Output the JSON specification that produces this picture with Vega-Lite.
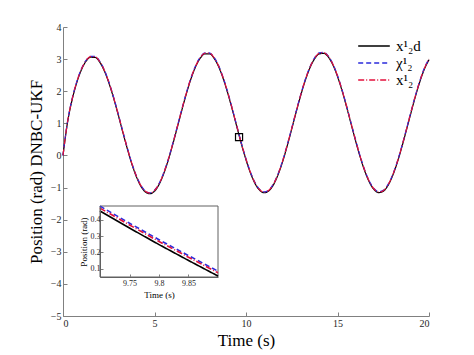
{
  "$schema": "https://vega.github.io/schema/vega-lite/v6.json",
  "width": 366,
  "height": 289,
  "autosize": {"type": "none"},
  "padding": {"left": 63, "top": 27, "right": 45, "bottom": 39},
  "background": "white",
  "config": {
    "view": {"stroke": null},
    "font": "Liberation Serif",
    "axis": {
      "grid": false,
      "domainColor": "#808080",
      "tickColor": "#808080",
      "labelColor": "#262626",
      "titleColor": "#000000",
      "labelFont": "Liberation Serif",
      "titleFont": "Liberation Serif",
      "titleFontWeight": "normal",
      "labelOverlap": false
    },
    "axisY": {"labelOverlap": false},
    "axisLeft": {"labelOverlap": false},
    "axisQuantitative": {"labelOverlap": false},
    "legend": {
      "orient": "none",
      "legendX": 302,
      "legendY": 10,
      "title": null,
      "padding": 0,
      "symbolType": "M-2,0H2",
      "symbolSize": 250,
      "symbolStrokeWidth": 1.4,
      "labelFont": "Liberation Serif",
      "labelFontSize": 15,
      "labelColor": "#000000",
      "labelOffset": 13,
      "rowPadding": -1
    }
  },
  "datasets": {
    "curve": [
      {"t": 0, "a": 0.0, "b": 0.0, "c": 0.0},
      {"t": 0.25, "a": 1.036, "b": 1.066, "c": 1.056},
      {"t": 0.5, "a": 1.737, "b": 1.767, "c": 1.757},
      {"t": 0.75, "a": 2.266, "b": 2.296, "c": 2.286},
      {"t": 1, "a": 2.659, "b": 2.689, "c": 2.679},
      {"t": 1.25, "a": 2.927, "b": 2.957, "c": 2.947},
      {"t": 1.5, "a": 3.058, "b": 3.088, "c": 3.078},
      {"t": 1.75, "a": 3.053, "b": 3.083, "c": 3.073},
      {"t": 2, "a": 2.911, "b": 2.941, "c": 2.931},
      {"t": 2.25, "a": 2.644, "b": 2.674, "c": 2.664},
      {"t": 2.5, "a": 2.271, "b": 2.301, "c": 2.291},
      {"t": 2.75, "a": 1.814, "b": 1.844, "c": 1.834},
      {"t": 3, "a": 1.3, "b": 1.33, "c": 1.32},
      {"t": 3.25, "a": 0.763, "b": 0.793, "c": 0.783},
      {"t": 3.5, "a": 0.238, "b": 0.268, "c": 0.258},
      {"t": 3.75, "a": -0.247, "b": -0.217, "c": -0.227},
      {"t": 4, "a": -0.648, "b": -0.618, "c": -0.628},
      {"t": 4.25, "a": -0.953, "b": -0.923, "c": -0.933},
      {"t": 4.5, "a": -1.137, "b": -1.107, "c": -1.117},
      {"t": 4.75, "a": -1.193, "b": -1.163, "c": -1.173},
      {"t": 5, "a": -1.113, "b": -1.083, "c": -1.093},
      {"t": 5.25, "a": -0.903, "b": -0.873, "c": -0.883},
      {"t": 5.5, "a": -0.574, "b": -0.544, "c": -0.554},
      {"t": 5.75, "a": -0.152, "b": -0.122, "c": -0.132},
      {"t": 6, "a": 0.346, "b": 0.376, "c": 0.366},
      {"t": 6.25, "a": 0.882, "b": 0.912, "c": 0.902},
      {"t": 6.5, "a": 1.424, "b": 1.454, "c": 1.444},
      {"t": 6.75, "a": 1.94, "b": 1.97, "c": 1.96},
      {"t": 7, "a": 2.398, "b": 2.428, "c": 2.418},
      {"t": 7.25, "a": 2.768, "b": 2.798, "c": 2.788},
      {"t": 7.5, "a": 3.029, "b": 3.059, "c": 3.049},
      {"t": 7.75, "a": 3.163, "b": 3.193, "c": 3.183},
      {"t": 8, "a": 3.164, "b": 3.194, "c": 3.184},
      {"t": 8.25, "a": 3.03, "b": 3.06, "c": 3.05},
      {"t": 8.5, "a": 2.771, "b": 2.801, "c": 2.791},
      {"t": 8.75, "a": 2.401, "b": 2.431, "c": 2.421},
      {"t": 9, "a": 1.945, "b": 1.975, "c": 1.965},
      {"t": 9.25, "a": 1.431, "b": 1.461, "c": 1.451},
      {"t": 9.5, "a": 0.89, "b": 0.92, "c": 0.91},
      {"t": 9.7, "a": 0.455, "b": 0.485, "c": 0.473},
      {"t": 9.75, "a": 0.35, "b": 0.38, "c": 0.369},
      {"t": 9.8, "a": 0.248, "b": 0.278, "c": 0.267},
      {"t": 9.85, "a": 0.15, "b": 0.18, "c": 0.17},
      {"t": 9.9, "a": 0.054, "b": 0.084, "c": 0.074},
      {"t": 10, "a": -0.135, "b": -0.105, "c": -0.115},
      {"t": 10.25, "a": -0.557, "b": -0.527, "c": -0.537},
      {"t": 10.5, "a": -0.881, "b": -0.851, "c": -0.861},
      {"t": 10.75, "a": -1.087, "b": -1.057, "c": -1.067},
      {"t": 11, "a": -1.162, "b": -1.132, "c": -1.142},
      {"t": 11.25, "a": -1.102, "b": -1.072, "c": -1.082},
      {"t": 11.5, "a": -0.913, "b": -0.883, "c": -0.893},
      {"t": 11.75, "a": -0.604, "b": -0.574, "c": -0.584},
      {"t": 12, "a": -0.196, "b": -0.166, "c": -0.176},
      {"t": 12.25, "a": 0.295, "b": 0.325, "c": 0.315},
      {"t": 12.5, "a": 0.826, "b": 0.856, "c": 0.846},
      {"t": 12.75, "a": 1.368, "b": 1.398, "c": 1.388},
      {"t": 13, "a": 1.888, "b": 1.918, "c": 1.908},
      {"t": 13.25, "a": 2.354, "b": 2.384, "c": 2.374},
      {"t": 13.5, "a": 2.736, "b": 2.766, "c": 2.756},
      {"t": 13.75, "a": 3.012, "b": 3.042, "c": 3.032},
      {"t": 14, "a": 3.162, "b": 3.192, "c": 3.182},
      {"t": 14.25, "a": 3.179, "b": 3.209, "c": 3.199},
      {"t": 14.5, "a": 3.063, "b": 3.093, "c": 3.083},
      {"t": 14.75, "a": 2.818, "b": 2.848, "c": 2.838},
      {"t": 15, "a": 2.46, "b": 2.49, "c": 2.48},
      {"t": 15.25, "a": 2.014, "b": 2.044, "c": 2.034},
      {"t": 15.5, "a": 1.505, "b": 1.535, "c": 1.525},
      {"t": 15.75, "a": 0.966, "b": 0.996, "c": 0.986},
      {"t": 16, "a": 0.43, "b": 0.46, "c": 0.45},
      {"t": 16.25, "a": -0.07, "b": -0.04, "c": -0.05},
      {"t": 16.5, "a": -0.503, "b": -0.473, "c": -0.483},
      {"t": 16.75, "a": -0.841, "b": -0.811, "c": -0.821},
      {"t": 17, "a": -1.065, "b": -1.035, "c": -1.045},
      {"t": 17.25, "a": -1.158, "b": -1.128, "c": -1.138},
      {"t": 17.5, "a": -1.117, "b": -1.087, "c": -1.097},
      {"t": 17.75, "a": -0.943, "b": -0.913, "c": -0.923},
      {"t": 18, "a": -0.649, "b": -0.619, "c": -0.629},
      {"t": 18.25, "a": -0.251, "b": -0.221, "c": -0.231},
      {"t": 18.5, "a": 0.228, "b": 0.258, "c": 0.248},
      {"t": 18.75, "a": 0.755, "b": 0.785, "c": 0.775},
      {"t": 19, "a": 1.297, "b": 1.327, "c": 1.317},
      {"t": 19.25, "a": 1.822, "b": 1.852, "c": 1.842},
      {"t": 19.5, "a": 2.296, "b": 2.326, "c": 2.316},
      {"t": 19.75, "a": 2.691, "b": 2.721, "c": 2.711},
      {"t": 20, "a": 2.981, "b": 3.011, "c": 3.001}
    ],
    "marker": [{"t": 9.62, "y": 0.57}]
  },
  "resolve": {"scale": {"x": "independent", "y": "independent"}},
  "layer": [
    {
      "layer": [
        {
          "data": {"name": "curve"},
          "transform": [{"fold": ["a", "b", "c"], "as": ["s", "y"]}],
          "mark": {"type": "line", "strokeWidth": 1.2, "interpolate": "monotone"},
          "encoding": {
            "x": {
              "field": "t", "type": "quantitative",
              "scale": {"domain": [0, 20], "nice": false},
              "axis": {
                "values": [0, 5, 10, 15, 20], "title": "Time (s)",
                "titleFontSize": 17, "labelFontSize": 10,
                "tickSize": -4, "labelPadding": 6, "titlePadding": 4,
                "labelOverlap": false
              }
            },
            "y": {
              "field": "y", "type": "quantitative",
              "scale": {"domain": [-5, 4], "nice": false, "zero": false},
              "axis": {
                "values": [-5, -4, -3, -2, -1, 0, 1, 2, 3, 4],
                "title": "Position (rad)  DNBC-UKF",
                "titleFontSize": 17, "labelFontSize": 10,
                "tickSize": -4, "labelPadding": 6, "titlePadding": 5,
                "labelOverlap": false
              }
            },
            "color": {
              "field": "s", "type": "nominal",
              "scale": {"domain": ["a", "b", "c"], "range": ["#000000", "#2b2bdc", "#e3103c"]},
              "legend": {"labelExpr": "datum.value == 'a' ? 'x¹₂d' : datum.value == 'b' ? 'χ¹₂' : 'x¹₂'"}
            },
            "strokeDash": {
              "field": "s", "type": "nominal",
              "scale": {"domain": ["a", "b", "c"], "range": [[1, 0], [5, 3], [6, 2, 1, 2]]},
              "legend": {"labelExpr": "datum.value == 'a' ? 'x¹₂d' : datum.value == 'b' ? 'χ¹₂' : 'x¹₂'"}
            }
          }
        },
        {
          "data": {"name": "marker"},
          "mark": {"type": "point", "shape": "square", "size": 50, "filled": false, "stroke": "#000000", "strokeWidth": 1.2, "opacity": 1},
          "encoding": {
            "x": {
              "field": "t", "type": "quantitative",
              "axis": {
                "values": [0, 5, 10, 15, 20], "title": "Time (s)",
                "titleFontSize": 17, "labelFontSize": 10,
                "tickSize": -4, "labelPadding": 6, "titlePadding": 4,
                "labelOverlap": false
              }
            },
            "y": {
              "field": "y", "type": "quantitative",
              "axis": {
                "values": [-5, -4, -3, -2, -1, 0, 1, 2, 3, 4],
                "title": "Position (rad)  DNBC-UKF",
                "titleFontSize": 17, "labelFontSize": 10,
                "tickSize": -4, "labelPadding": 6, "titlePadding": 5,
                "labelOverlap": false
              }
            }
          }
        }
      ]
    },
    {
      "layer": [
        {
          "data": {"values": [{}]},
          "mark": {"type": "rect", "fill": "transparent", "stroke": "#606060", "strokeWidth": 1},
          "encoding": {
            "x": {"datum": 9.7, "type": "quantitative"},
            "x2": {"datum": 9.9},
            "y": {"datum": 0.048, "type": "quantitative"},
            "y2": {"datum": 0.486}
          }
        },
        {
          "data": {"name": "curve"},
          "transform": [
            {"filter": {"field": "t", "range": [9.7, 9.9]}},
            {"fold": ["a", "b", "c"], "as": ["s", "y"]}
          ],
          "mark": {"type": "line", "strokeWidth": 1.6},
          "encoding": {
            "x": {
              "field": "t", "type": "quantitative",
              "scale": {"domain": [9.7, 9.9], "nice": false, "zero": false, "range": [37, 155]},
              "axis": {
                "orient": "bottom", "offset": -39, "values": [9.75, 9.8, 9.85], "format": ".2~f",
                "title": "Time (s)", "titleFontSize": 9, "labelFontSize": 8,
                "tickSize": -3, "labelPadding": 5, "titlePadding": 3,
                "domainColor": "#606060", "zindex": 1, "labelOverlap": false
              }
            },
            "y": {
              "field": "y", "type": "quantitative",
              "scale": {"domain": [0.048, 0.486], "nice": false, "zero": false, "range": [250, 179]},
              "axis": {
                "orient": "left", "offset": -37, "values": [0.1, 0.2, 0.3, 0.4], "format": ".1f",
                "title": "Position (rad)", "titleFontSize": 9, "labelFontSize": 8,
                "tickSize": -3, "labelPadding": 3, "titlePadding": 2,
                "domainColor": "#606060", "zindex": 1, "labelOverlap": false
              }
            },
            "color": {"field": "s", "type": "nominal"},
            "strokeDash": {"field": "s", "type": "nominal"}
          }
        }
      ]
    }
  ]
}
